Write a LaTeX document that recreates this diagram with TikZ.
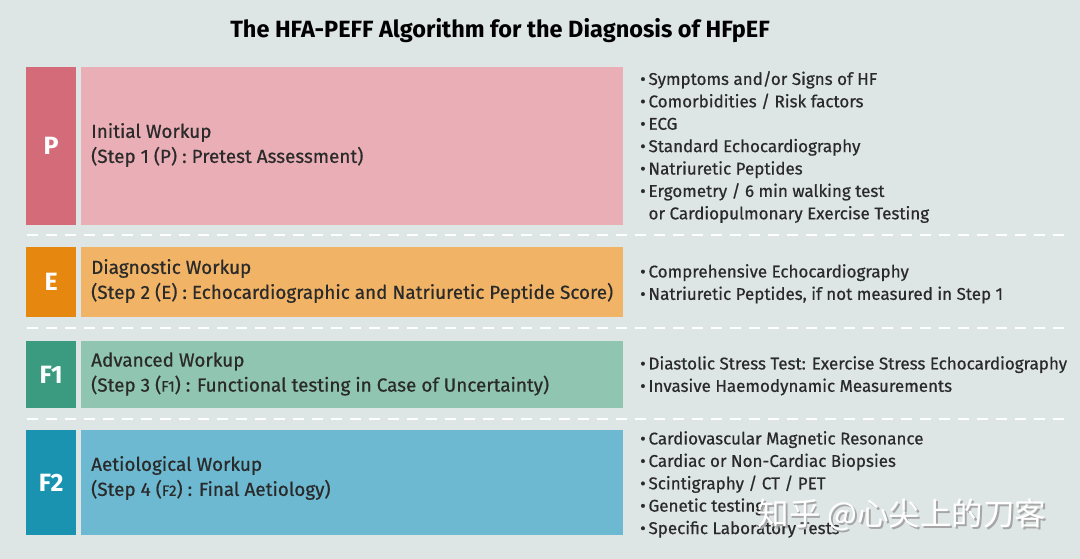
\documentclass[tikz,border=0pt]{standalone}
\usepackage{fontspec}
\setmainfont{Fira Sans}[UprightFeatures={FakeBold=0.6}]
\newfontfamily\cjkfont{Noto Sans CJK SC}
\definecolor{bgc}{HTML}{DEE6E5}
\definecolor{pdark}{HTML}{D46B78}
\definecolor{plight}{HTML}{E9AEB6}
\definecolor{edark}{HTML}{E6880F}
\definecolor{elight}{HTML}{F1B466}
\definecolor{fadark}{HTML}{3A9B81}
\definecolor{falight}{HTML}{90C5B1}
\definecolor{fbdark}{HTML}{1A93B1}
\definecolor{fblight}{HTML}{6CB9D1}
\definecolor{txt}{HTML}{2A2A2A}
\tikzset{
  tagbox/.style={anchor=north west, minimum width=50, inner sep=0, text=white,
    font=\fontsize{25}{25}\selectfont\bfseries},
  mainbox/.style={anchor=north west, minimum width=542, inner sep=0},
  steptext/.style={anchor=west, align=left, inner sep=0, text=txt,
    font=\fontsize{18.9}{25}\selectfont},
  bullets/.style={anchor=north west, align=left, inner sep=0, text=txt,
    font=\fontsize{17}{22.4}\selectfont},
  sepline/.style={white, line width=1.6, dash pattern=on 11 off 8},
}
\newcommand{\sm}[1]{{\fontsize{15}{15}\selectfont #1}}
\begin{document}
\begin{tikzpicture}[x=1pt,y=-1pt]
\fill[bgc] (0,0) rectangle (1080,559);
\useasboundingbox (0,0) rectangle (1080,559);

\node[font=\fontsize{23.5}{23.5}\selectfont\bfseries, text=black] (title) at (500,31)
  {The HFA-PEFF Algorithm for the Diagnosis of HFpEF};

% Row P
\node[tagbox, fill=pdark, minimum height=158] (ptag) at (26,67) {P};
\node[mainbox, fill=plight, minimum height=158] (pbox) at (81,67) {};
\node[steptext] (ptext) at (91,145) {Initial Workup\\(Step 1 (P) : Pretest Assessment)};
\node[bullets] (plist) at (640,71) {•\,Symptoms and/or Signs of HF\\
•\,Comorbidities / Risk factors\\
•\,ECG\\
•\,Standard Echocardiography\\
•\,Natriuretic Peptides\\
•\,Ergometry / 6 min walking test\\
\hphantom{•\,}or Cardiopulmonary Exercise Testing};

\coordinate (s1a) at (27,235);
\coordinate (s1b) at (1066,235);
\draw[sepline] (s1a) -- (s1b);

% Row E
\node[tagbox, fill=edark, minimum height=70] (etag) at (26,247) {E};
\node[mainbox, fill=elight, minimum height=70] (ebox) at (81,247) {};
\node[steptext] (etext) at (91,281) {Diagnostic Workup\\(Step 2 (E) : Echocardiographic and Natriuretic Peptide Score)};
\node[bullets] (elist) at (640,264) {•\,Comprehensive Echocardiography\\
•\,Natriuretic Peptides, if not measured in Step 1};

\coordinate (s2a) at (27,328);
\coordinate (s2b) at (1066,328);
\draw[sepline] (s2a) -- (s2b);

% Row F1
\node[tagbox, fill=fadark, minimum height=67] (f1tag) at (26,341) {F1};
\node[mainbox, fill=falight, minimum height=67] (f1box) at (81,341) {};
\node[steptext] (f1text) at (91,374) {Advanced Workup\\(Step 3 (\sm{F1}) : Functional testing in Case of Uncertainty)};
\node[bullets] (f1list) at (640,356) {•\,Diastolic Stress Test: Exercise Stress Echocardiography\\
•\,Invasive Haemodynamic Measurements};

\coordinate (s3a) at (27,419);
\coordinate (s3b) at (1066,419);
\draw[sepline] (s3a) -- (s3b);

% Row F2
\node[tagbox, fill=fbdark, minimum height=105] (f2tag) at (26,430) {F2};
\node[mainbox, fill=fblight, minimum height=105] (f2box) at (81,430) {};
\node[steptext] (f2text) at (91,478) {Aetiological Workup\\(Step 4 (\sm{F2}) : Final Aetiology)};
\node[bullets] (f2list) at (640,431) {•\,Cardiovascular Magnetic Resonance\\
•\,Cardiac or Non-Cardiac Biopsies\\
•\,Scintigraphy / CT / PET\\
•\,Genetic testing\\
•\,Specific Laboratory Tests};

% watermark
\node[font=\cjkfont\fontsize{31.5}{31.5}\selectfont, text=gray!70, anchor=west] (wmshadow) at (755.8,516.8) {知乎 @心尖上的刀客};
\node[font=\cjkfont\fontsize{31.5}{31.5}\selectfont, text=white, anchor=west] (wm) at (754,515) {知乎 @心尖上的刀客};
\end{tikzpicture}
\end{document}
